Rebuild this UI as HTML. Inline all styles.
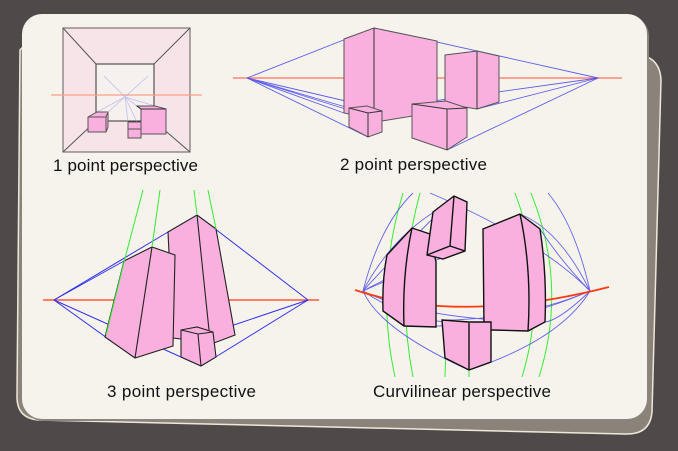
<!DOCTYPE html>
<html><head><meta charset="utf-8"><style>
html,body{margin:0;padding:0;background:#4f4a49;}
svg{display:block;}
text{font-family:"Liberation Sans",sans-serif;font-size:17px;fill:#111;}
</style></head><body>
<svg width="678" height="451" viewBox="0 0 678 451" xmlns="http://www.w3.org/2000/svg">
<rect width="678" height="451" fill="#4f4a49"/>
<path d="M40 30 L635 54 Q660 56 661 80 L652 412 Q650 435 625 434 L38 420 Q16 418 17 395 L20 50 Z" fill="#8b8279" stroke="#eee8dc" stroke-width="1.5"/>
<rect x="23" y="16" width="626" height="405" rx="20" fill="#8a847c"/>
<rect x="22" y="14" width="625" height="405" rx="20" fill="#f6f3ec"/>

<rect x="63" y="28" width="127" height="124" fill="#f7e4e8" stroke="#7a7575" stroke-width="1.2"/>
<rect x="96" y="64" width="58" height="57" fill="#f6f0ee" stroke="#333" stroke-width="1"/>
<g stroke="#555" stroke-width="1"><line x1="63" y1="28" x2="96" y2="64"/><line x1="190" y1="28" x2="154" y2="64"/><line x1="63" y1="152" x2="96" y2="121"/><line x1="190" y1="152" x2="154" y2="121"/></g>
<line x1="51" y1="95" x2="202" y2="95" stroke="#ff9f85" stroke-width="1.3"/>
<g stroke="#9f9ff0" stroke-width="0.8" opacity="0.6"><line x1="125" y1="97" x2="104" y2="76"/><line x1="125" y1="97" x2="148" y2="76"/><line x1="125" y1="97" x2="97" y2="112"/><line x1="125" y1="97" x2="128" y2="122"/><line x1="125" y1="97" x2="137" y2="122"/><line x1="125" y1="97" x2="141" y2="109"/><line x1="125" y1="97" x2="155" y2="106"/><line x1="125" y1="97" x2="108" y2="112"/></g>
<g fill="#f9b0df" stroke="#555" stroke-width="1">
<path d="M88 117 L97 112 L108 112 L108 127 L106 132 L88 132 Z"/><path d="M88 117 L106 117 L108 112 M106 117 L106 132"/>
<rect x="128" y="122" width="13" height="16"/><line x1="128" y1="129" x2="141" y2="129"/>
<path d="M137 106 L155 106 L166 109 L166 134 L141 134 L141 109 Z"/></g>
<path d="M137 106 L141 109 L166 109" fill="none" stroke="#333"/>
<text x="53" y="171" textLength="145">1 point perspective</text>

<line x1="233" y1="78" x2="622" y2="78" stroke="#ff7060" stroke-width="1.3"/>
<g stroke="#4444ee" stroke-width="0.9" fill="none" opacity="0.85">
<line x1="247" y1="78" x2="374" y2="28"/><line x1="374" y1="28" x2="598" y2="78"/>
<line x1="247" y1="78" x2="349" y2="108"/><line x1="247" y1="78" x2="368" y2="137"/><line x1="247" y1="78" x2="344" y2="113"/><line x1="247" y1="78" x2="358" y2="113"/><line x1="247" y1="78" x2="367" y2="106"/>
<line x1="598" y1="78" x2="412" y2="104"/><line x1="598" y1="78" x2="447" y2="150"/><line x1="598" y1="78" x2="477" y2="109"/></g>
<g fill="#f9b0df" stroke="#555" stroke-width="1">
<path d="M344 39 L374 28 L437 41 L437 112 L382 121 L344 113 Z"/>
<path d="M445 55 L477 51 L499 56 L499 102 L477 109 L445 104 Z"/>
<path d="M349 108 L367 106 L382 111 L382 132 L368 137 L349 127 Z"/>
<path d="M412 104 L446 101 L467 108 L467 137 L447 150 L412 138 Z"/></g>
<g stroke="#333" stroke-width="1" fill="none"><line x1="374" y1="28" x2="374" y2="108"/><line x1="477" y1="51" x2="477" y2="109"/><path d="M349 108 L368 113 L382 111 M368 113 L368 137"/><path d="M412 104 L447 109 L467 108 M447 109 L447 150"/></g>
<text x="340" y="170" textLength="147">2 point perspective</text>

<line x1="43" y1="300" x2="319" y2="300" stroke="#ff5a3a" stroke-width="1.6"/>
<g stroke="#3030ee" stroke-width="1" fill="none">
<line x1="54" y1="300" x2="168" y2="232"/><line x1="54" y1="300" x2="124" y2="261"/><line x1="197" y1="215" x2="308" y2="300"/>
<line x1="54" y1="300" x2="135" y2="358"/><line x1="54" y1="300" x2="201" y2="366"/><line x1="308" y1="300" x2="201" y2="366"/><line x1="308" y1="300" x2="213" y2="332"/></g>
<g fill="#f9b0df" stroke="#222" stroke-width="1.1">
<path d="M168 232 L197 215 L216 229 L235 335 L214 343 L173 338 Z"/>
<path d="M124 261 L152 247 L175 255 L173 346 L135 358 L105 337 Z"/>
<path d="M181 330 L197 327 L213 332 L216 357 L201 366 L181 357 Z"/></g>
<g stroke="#222" stroke-width="1.1" fill="none"><line x1="197" y1="215" x2="209" y2="330"/><line x1="152" y1="247" x2="135" y2="358"/><path d="M181 330 L198 334 L213 332 M198 334 L201 366"/></g>
<g stroke="#33ee33" stroke-width="1" fill="none"><line x1="143" y1="190" x2="124" y2="262"/><line x1="160" y1="190" x2="152" y2="247"/><line x1="194" y1="190" x2="197" y2="215"/><line x1="208" y1="190" x2="216" y2="229"/><line x1="124" y1="262" x2="106" y2="335"/></g>
<text x="107" y="397" textLength="149">3 point perspective</text>

<g stroke="#33ee33" stroke-width="1" fill="none">
<path d="M403 193 Q375 285 395 377"/><path d="M420 193 Q395 285 413 377"/><path d="M447 320 L445 377"/><path d="M469 360 L469 377"/>
<path d="M515 193 Q550 285 522 377"/><path d="M531 193 Q568 285 539 377"/></g>
<g stroke="#4a4aee" stroke-width="0.9" fill="none" opacity="0.85">
<path d="M363 291 Q380 225 413 193"/><path d="M363 291 Q390 240 434 212"/><path d="M363 291 Q400 250 455 197"/><path d="M363 291 Q400 270 465 251"/><path d="M363 291 Q410 270 436 262"/>
<path d="M363 291 Q380 330 469 370"/><path d="M363 291 Q420 330 491 322"/><path d="M363 291 Q420 320 545 322"/>
<path d="M590 291 Q575 225 548 193"/><path d="M590 291 Q560 230 520 214"/><path d="M590 291 Q540 240 430 193"/><path d="M590 291 Q560 260 540 229"/>
<path d="M590 291 Q560 340 469 370"/><path d="M590 291 Q520 320 442 320"/><path d="M590 291 Q500 330 404 326"/><path d="M590 291 Q560 320 545 322"/></g>
<path d="M355 290 Q460 325 609 287" stroke="#ff3a10" stroke-width="1.8" fill="none"/>
<g fill="#f9b0df" stroke="#111" stroke-width="1.4">
<path d="M387 255 L412 228 L430 234 L436 262 L436 327 L404 326 L383 311 Q382 280 387 255 Z"/>
<path d="M433 212 L454 196 L467 202 L465 251 L443 259 L427 255 Z"/>
<path d="M483 229 L520 214 L540 229 Q547 275 545 322 L528 331 L492 330 L484 328 Z"/>
<path d="M442 320 L469 322 L491 322 L491 362 L469 370 L445 358 Z"/></g>
<g stroke="#111" stroke-width="1.4" fill="none"><path d="M412 228 Q402 275 404 326"/><path d="M454 196 L450 246 M427 255 L450 246 L465 251"/><path d="M520 214 Q532 270 528 331"/><path d="M469 323 L469 370"/></g>
<text x="373" y="397" textLength="178">Curvilinear perspective</text>
</svg>
</body></html>
